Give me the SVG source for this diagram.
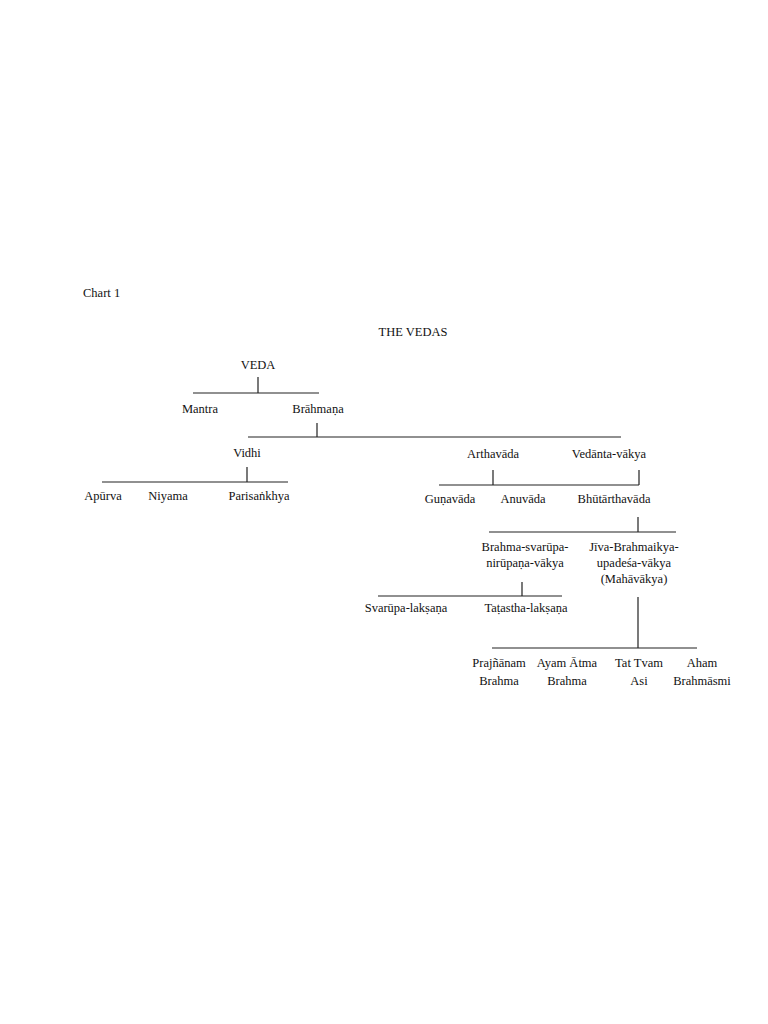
<svg xmlns="http://www.w3.org/2000/svg" width="768" height="1024" viewBox="0 0 768 1024">
<style>
text{font-family:"Liberation Serif","Times New Roman",serif;font-size:12.5px;fill:#111;text-anchor:middle}
.l{stroke:#222;stroke-width:1.2;fill:none}
</style>
<rect width="768" height="1024" fill="#fff"/>
<text x="83" y="297" style="text-anchor:start">Chart 1</text>
<text x="413" y="336">THE VEDAS</text>
<g id="connectors" class="l">
<path d="M258 377V393M193 393H319"/>
<path d="M317 423V437M248 437H621"/>
<path d="M247 467V482M102 482H288"/>
<path d="M493 470V485M639 470V485M439 485H639"/>
<path d="M638 517V532M489 532H676"/>
<path d="M522 582V596M378 596H562"/>
<path d="M638 597V648M492 648H697"/>
</g>
<g id="veda"><text x="258" y="369">VEDA</text></g>
<g id="mantra"><text x="200" y="413">Mantra</text></g>
<g id="brahmana"><text x="318" y="413">Brāhmaṇa</text></g>
<g id="vidhi"><text x="247" y="457">Vidhi</text></g>
<g id="apurva"><text x="103" y="500">Apūrva</text></g>
<g id="niyama"><text x="168" y="500">Niyama</text></g>
<g id="parisankhya"><text x="259" y="500">Parisaṅkhya</text></g>
<g id="arthavada"><text x="493" y="458">Arthavāda</text></g>
<g id="vedanta"><text x="609" y="458">Vedānta-vākya</text></g>
<g id="gunavada"><text x="450" y="503">Guṇavāda</text></g>
<g id="anuvada"><text x="523" y="503">Anuvāda</text></g>
<g id="bhutartha"><text x="614" y="503">Bhūtārthavāda</text></g>
<g id="brahmasvarupa"><text x="525" y="551">Brahma-svarūpa-</text><text x="525" y="567">nirūpaṇa-vākya</text></g>
<g id="jiva"><text x="634" y="551">Jīva-Brahmaikya-</text><text x="634" y="567">upadeśa-vākya</text><text x="634" y="583">(Mahāvākya)</text></g>
<g id="svarupa"><text x="406" y="612">Svarūpa-lakṣaṇa</text></g>
<g id="tatastha"><text x="526" y="612">Taṭastha-lakṣaṇa</text></g>
<g id="prajnanam"><text x="499" y="667">Prajñānam</text><text x="499" y="685">Brahma</text></g>
<g id="ayam"><text x="567" y="667">Ayam Ātma</text><text x="567" y="685">Brahma</text></g>
<g id="tattvam"><text x="639" y="667">Tat Tvam</text><text x="639" y="685">Asi</text></g>
<g id="aham"><text x="702" y="667">Aham</text><text x="702" y="685">Brahmāsmi</text></g>
</svg>
